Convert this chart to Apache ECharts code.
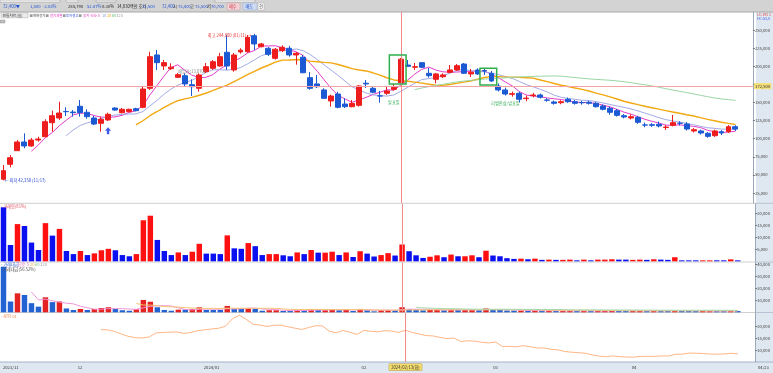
<!DOCTYPE html>
<html><head><meta charset="utf-8">
<script src="https://cdn.jsdelivr.net/npm/echarts@6/dist/echarts.min.js"></script>
<style>html,body{margin:0;padding:0;background:#fff;overflow:hidden}#c{width:773px;height:373px}</style>
</head><body><div id="c"></div>
<script>
const dates = ['2023/11/17','2023/11/20','2023/11/21','2023/11/22','2023/11/23','2023/11/24','2023/11/27','2023/11/28','2023/11/29','2023/11/30',
'2023/12/01','2023/12/04','2023/12/05','2023/12/06','2023/12/07','2023/12/08','2023/12/11','2023/12/12','2023/12/13','2023/12/14',
'2023/12/15','2023/12/18','2023/12/19','2023/12/20','2023/12/21','2023/12/22','2023/12/26','2023/12/27','2023/12/28','2024/01/02',
'2024/01/03','2024/01/04','2024/01/05','2024/01/08','2024/01/09','2024/01/10','2024/01/11','2024/01/12','2024/01/15','2024/01/16',
'2024/01/17','2024/01/18','2024/01/19','2024/01/22','2024/01/23','2024/01/24','2024/01/25','2024/01/26','2024/01/29','2024/01/30',
'2024/01/31','2024/02/01','2024/02/02','2024/02/05','2024/02/06','2024/02/07','2024/02/08','2024/02/13','2024/02/14','2024/02/15',
'2024/02/16','2024/02/19','2024/02/20','2024/02/21','2024/02/22','2024/02/23','2024/02/26','2024/02/27','2024/02/28','2024/02/29',
'2024/03/04','2024/03/05','2024/03/06','2024/03/07','2024/03/08','2024/03/11','2024/03/12','2024/03/13','2024/03/14','2024/03/15',
'2024/03/18','2024/03/19','2024/03/20','2024/03/21','2024/03/22','2024/03/25','2024/03/26','2024/03/27','2024/03/28','2024/03/29',
'2024/04/01','2024/04/02','2024/04/03','2024/04/04','2024/04/05','2024/04/08','2024/04/09','2024/04/11','2024/04/12','2024/04/15',
'2024/04/16','2024/04/17','2024/04/18','2024/04/19','2024/04/22','2024/04/23'];

const opens = [44000,64600,83400,95400,89900,98100,102700,122000,128500,137500,
136700,144700,136400,128500,121200,125800,142300,135800,137200,141300,
143300,169500,215500,200300,196600,184700,186900,174500,169500,192400,
197100,200300,219200,194800,219700,220000,242100,226900,224700,210900,
221400,224700,215500,212300,184200,175500,167200,152000,161600,147800,
144100,146000,176500,169500,159000,162600,168100,177300,201600,198600,
204900,190200,181900,185500,191600,194800,203000,189300,194800,194000,
190200,172700,167200,161200,162600,155300,159300,160300,153400,150600,
149600,154300,151000,149800,150200,148800,145100,141900,138600,131700,
128500,129500,118900,119300,119800,115300,118500,121300,120200,110600,
110600,107400,104100,109600,109600,116500];
const closes = [55800,73700,95400,89900,98100,99500,123400,131700,135400,137200,
135800,135800,130300,120200,126700,133600,139500,140500,140500,138600,
168500,213100,204900,204900,198600,188300,175500,171700,187900,199300,
206200,213100,200300,215500,222100,239900,230700,230700,216400,223400,
226100,215500,217800,191000,169500,171700,155700,158900,143300,144100,
148800,172700,175500,164000,158900,165800,170900,209600,199800,199300,
198500,186900,189300,187900,194800,200700,190200,191600,189300,193300,
179600,167200,161600,162000,154300,156000,160300,157100,153000,148800,
151000,151000,148800,149600,148800,144100,140500,136400,132200,129900,
130300,122600,118700,118500,117500,116000,122000,121100,113300,112400,
107800,103200,110600,107800,116500,113200];
const lows = [42350,60400,83000,86700,88900,95800,101800,109600,125800,131300,
130300,130300,127500,118800,109600,124400,138600,135000,136400,137800,
141900,167200,194800,194800,194800,183700,171700,158900,164800,190600,
194800,199300,194800,192400,217300,218700,222400,226100,214100,209000,
219600,213100,202100,190200,167600,169900,154700,144100,141900,142300,
143300,144100,170000,162600,149600,160300,166200,176400,198900,194800,
197500,184200,176400,183700,190200,193400,189300,185100,187900,187900,
178200,165200,159500,158000,150000,151500,157000,155500,151000,147000,
147500,149500,147000,147000,147000,143000,139000,133000,130500,128000,
126500,120500,115800,116000,115500,112000,117000,118200,111200,108500,
105800,101200,102500,105000,107800,110600];
const highs = [63600,77400,98100,107400,100900,102700,126700,138600,151000,143300,
139500,153400,140500,131300,130300,135800,143300,142300,141300,142700,
171700,220000,222400,208600,204000,190600,190200,181900,190200,204400,
208600,218300,243000,218300,224700,243100,244800,232100,226500,225100,
228900,227900,219500,215500,192000,187900,169500,160700,164800,155700,
153400,174100,181000,172700,165800,171300,175500,211300,208600,204400,
205800,197500,190600,190200,201700,203000,204400,196200,197100,196500,
193400,176200,170500,165000,165000,159500,163200,162200,155800,152600,
153000,156700,153300,152200,152200,150500,147100,144300,140900,133900,
133500,131400,122200,121500,123600,118700,132700,124000,122800,114700,
112500,109100,112500,111800,118700,118700];
const volumes = [22500,6800,15500,14700,7800,4700,15900,10700,13500,4300,
3000,4300,2600,3300,4600,5200,4600,2600,2100,3000,
17100,19000,8900,4300,2600,3700,2600,4000,7300,3200,
3200,3000,10800,5400,5200,7600,6300,2600,3000,3000,
2500,2100,3700,3000,4700,3600,3600,4000,2600,3700,
1800,4200,3200,2000,2600,3400,2400,7000,4200,2500,
1400,1900,2500,1700,2800,2100,2100,2500,1700,4400,
2400,2100,1300,1000,1100,850,1100,600,700,600,
600,700,400,700,400,700,700,850,700,700,
600,700,600,850,700,600,1700,400,400,400,
400,400,400,400,800,400];
const volUp = [0,0,1,0,0,0,1,0,1,0, 0,1,0,1,1,1,0,0,0,1, 1,1,0,0,0,1,0,1,1,0, 0,0,1,0,0,1,0,0,1,1,
0,0,1,0,1,0,1,1,0,1, 0,1,0,0,1,1,0,1,0,0, 0,1,1,0,1,0,1,1,0,1, 0,0,0,0,1,0,1,0,1,0,
1,1,0,1,0,1,1,1,0,0, 1,1,0,1,0,0,1,0,0,0, 1,1,0,0,1,0];
const amounts = [38000,9000,15800,14400,7600,4700,12500,8500,9000,3200,
1900,2800,1900,2800,3600,4200,2800,1700,1300,2500,
10300,8800,4200,1900,1300,2200,2200,2800,4200,1900,
1900,1900,5300,3000,3000,3600,2800,1300,1700,1700,
1100,1100,1900,1700,2500,1900,1700,2500,1700,2500,
1100,2800,1700,800,1900,1900,1900,4200,2800,2200,
1600,1900,2200,1700,2400,1900,1900,2200,1700,3200,
2200,1900,1500,1400,1500,1300,1500,1200,1300,1200,
1200,1300,1100,1300,1100,1300,1300,1400,1300,1300,
1200,1300,1200,1400,1300,1200,1900,1100,1100,1100,
1100,1100,1100,1100,1300,1100];

const priceTicks = [25000,50000,75000,100000,125000,150000,175000,200000,225000,250000];
const volTicks = [5000,10000,15000,20000];
const amtTicks = [10000,20000,30000,40000];
const atrTicks = [10000,15000,20000];
const xTickIdx = [0,10,29,51,70,90];
const xTickText = ['2023/11','12','2024/01','02','03','04'];
const refPrice = 172500;
const markDate = '2024/02/13';
const amtMarker = 12300;
const boxes = [[56,57,175500,215500],[69,70,174100,197100]];
const signals = [['2023/12/08',111000]];
const notes = [['2024/02/08',150600,'발표일'],['2024/03/06',149200,'리밸런싱/발표일']];
const grayNote = ['2023/12/27',193400,'매입가(13,070)'];

const F = '"Noto Sans CJK KR","Noto Sans",sans-serif';
const FS = 4.2;
const RED = '#ee1d1d', BLUE = '#1c5ad4';
const cats = dates.concat(['', ' ']);
const fmt = v => Math.round(v).toLocaleString('en-US');
function sma(arr, n){ return arr.map((v,i)=> i<n-1 ? '-' : Math.round(arr.slice(i-n+1,i+1).reduce((a,b)=>a+b,0)/n)); }
const tr = closes.map((c,i)=> i===0 ? highs[0]-lows[0] : Math.max(highs[i]-lows[i], Math.abs(highs[i]-closes[i-1]), Math.abs(lows[i]-closes[i-1])));
const atr = sma(tr,14);
const candle = dates.map((d,i)=>[opens[i],closes[i],lows[i],highs[i]]);
const lastPrice = closes[closes.length-1];
let iMax = 0, iMin = 0;
highs.forEach((h,i)=>{ if(h>highs[iMax]) iMax=i; });
lows.forEach((l,i)=>{ if(l<lows[iMin]) iMin=i; });

const grids = [
  {left:-2, right:17, top:12, height:191},
  {left:-2, right:17, top:203.7, height:57.6},
  {left:-2, right:17, top:262.5, height:49.8},
  {left:-2, right:17, top:313, height:49}
];
const xAxes = grids.map((g,k)=>({
  type:'category', gridIndex:k, data:cats, boundaryGap:true,
  axisLine:{show:false}, axisTick:{show:false},
  axisLabel: k===3 ? {show:true, interval:(i)=>xTickIdx.includes(i), formatter:(v,i)=>{const j=xTickIdx.indexOf(i);return j>=0?xTickText[j]:'';}, fontSize:FS, fontFamily:F, color:'#333', margin:3} : {show:false},
  splitLine:{show:false}
}));
function yAx(k, min, max, ticks){
  return {type:'value', gridIndex:k, position:'right', min, max, scale:false,
    axisLine:{show:true, lineStyle:{color:'#9aa8bc', width:1}},
    axisTick:{show:true, length:2, customValues:ticks, lineStyle:{color:'#777'}},
    axisLabel:{show:true, customValues:ticks, formatter:v=>fmt(v), fontSize:FS, fontFamily:F, color:'#444', margin:2},
    splitLine:{show:false}};
}
const yAxes = [yAx(0,11200,274800,priceTicks), yAx(1,0,24000,volTicks), yAx(2,0,41500,amtTicks), yAx(3,5000,25400,atrTicks)];

const vline = (showLabel)=>({xAxis:markDate, lineStyle:{color:'#f28a8a', width:1, type:'solid'},
  label: showLabel ? {show:true, position:'start', distance:2, formatter: markDate+'(화)', backgroundColor:'#f4dc6c', borderColor:'#b89a3a', borderWidth:0.5, color:'#333', fontSize:FS, fontFamily:F, padding:[1,2]} : {show:false}});

function lineSeries(data, color, width, xi, yi){
  return {type:'line', xAxisIndex:xi, yAxisIndex:yi, data, symbol:'none', showSymbol:false, lineStyle:{color, width}, silent:true, z:3};
}
const lbl = (color)=>({show:true, color, fontSize:FS, fontFamily:F});

const series = [
  {type:'candlestick', xAxisIndex:0, yAxisIndex:0, data:candle, barWidth:'78%',
   itemStyle:{color:RED, color0:BLUE, borderColor:RED, borderColor0:BLUE, borderWidth:1}, z:4,
   markLine:{symbol:['none','none'], silent:true, animation:false, data:[
     {yAxis:refPrice, lineStyle:{color:'#f3a3a3', width:1, type:'solid'}, label:{show:true, position:'end', distance:1, formatter:fmt(refPrice), backgroundColor:'#f6e07a', color:'#333', fontSize:FS, fontFamily:F, padding:[1,1.2]}},
     {yAxis:lastPrice, lineStyle:{opacity:0}, label:{show:true, position:'end', distance:1, formatter:'{a|'+fmt(lastPrice)+'}\n{b|-4.38%}', offset:[0,2], rich:{a:{backgroundColor:'#2a62d6', color:'#fff', fontSize:FS, fontFamily:F, padding:[0.5,1.2], lineHeight:5}, b:{color:'#2a62d6', fontSize:FS, fontFamily:F, lineHeight:4.5, padding:[0,1]}}}},
     vline(false)
   ]},
   markPoint:{symbol:'circle', symbolSize:0, silent:true, animation:false, data:[
     {coord:[dates[iMax], highs[iMax]], label:Object.assign(lbl('#e83030'),{position:'left', distance:3, offset:[0,2], formatter:'최고 '+fmt(highs[iMax])+' ('+dates[iMax].slice(5)+') →'})},
     {coord:[dates[iMin], lows[iMin]], label:Object.assign(lbl('#2040d0'),{position:'right', distance:1, formatter:'← 최저 '+fmt(lows[iMin])+' ('+dates[iMin].slice(5)+')'})},
     {coord:[notes[0][0], notes[0][1]], label:Object.assign(lbl('#3aae5a'),{position:'inside', formatter:notes[0][2]})},
     {coord:[notes[1][0], notes[1][1]], label:Object.assign(lbl('#3aae5a'),{position:'inside', formatter:notes[1][2]})},
     {coord:[grayNote[0], grayNote[1]], label:Object.assign(lbl('#888'),{position:'inside', formatter:grayNote[2]})}
   ]}
  },
  lineSeries(sma(closes,5), '#e43cc8', 1, 0, 0),
  lineSeries(sma(closes,10), '#a3aae6', 1, 0, 0),
  lineSeries(sma(closes,20), '#f2a810', 1.4, 0, 0),
  lineSeries(sma(closes,60), '#9ad6a6', 1, 0, 0),
  {type:'custom', xAxisIndex:0, yAxisIndex:0, data:boxes, z:6, silent:true,
   encode:{x:[0,1], y:[2,3]},
   renderItem:(params, api)=>{
     const p1 = api.coord([api.value(0), api.value(3)]);
     const p2 = api.coord([api.value(1), api.value(2)]);
     const bw = api.size([1,0])[0];
     return {type:'rect', shape:{x:p1[0]-0.65*bw, y:p1[1], width:p2[0]-p1[0]+1.4*bw, height:p2[1]-p1[1]}, style:{fill:'none', stroke:'#2fb04c', lineWidth:1.5}};
   }},
  {type:'scatter', xAxisIndex:0, yAxisIndex:0, data:signals, symbol:'path://M5,0 L10,5 L7,5 L7,10 L3,10 L3,5 L0,5 Z', symbolSize:[6,7], itemStyle:{color:'#1030e8'}, z:5, silent:true},
  {type:'bar', xAxisIndex:1, yAxisIndex:1, barWidth:'78%', silent:true,
   data:volumes.map((v,i)=>({value:v, itemStyle:{color: volUp[i]? '#ff1010':'#0a10f0'}})),
   markLine:{symbol:['none','none'], silent:true, animation:false, data:[vline(false)]}},
  {type:'bar', xAxisIndex:2, yAxisIndex:2, barWidth:'78%', silent:true,
   data:amounts.map((v,i)=>({value:v, itemStyle:{color: volUp[i]? '#e42222':'#2262d2'}})),
   markLine:{symbol:['none','none'], silent:true, animation:false, data:[vline(false),
     {yAxis:amtMarker, lineStyle:{opacity:0}, label:{show:true, position:'end', distance:1, formatter:'{a|89,820}\n{b|60.52%}', rich:{a:{backgroundColor:'#2a62d6', color:'#fff', fontSize:FS, fontFamily:F, padding:[0.5,1.2], lineHeight:4.5}, b:{color:'#2a62d6', fontSize:FS, fontFamily:F, lineHeight:4, padding:[0,1]}}}}]}},
  lineSeries(sma(amounts,5), '#f294d8', 1, 2, 2),
  lineSeries(sma(amounts,20), '#f6c474', 1, 2, 2),
  lineSeries(sma(amounts,60), '#a4dab0', 1, 2, 2),
  Object.assign(lineSeries(atr, '#ffb683', 1, 3, 3), {markLine:{symbol:['none','none'], silent:true, animation:false, data:[vline(true)]}})
];

function T(x, y, text, fill, size){ return {type:'text', x, y, z:50, silent:true, style:{text, fill, fontSize:size||FS, fontFamily:F, verticalAlign:'middle'}}; }
function R(x, y, w, h, fill, stroke, z){ return {type:'rect', z:(z==null?-10:z), silent:true, shape:{x,y,width:w,height:h}, style:{fill, stroke:stroke||null, lineWidth:0.5}}; }
function L(x1,y1,x2,y2,c){ return {type:'line', z:-5, silent:true, shape:{x1,y1,x2,y2}, style:{stroke:c, lineWidth:1}}; }

const graphics = [
  R(0,0,773,12,'#d3d3d3'),
  R(0,0,60,2.2,'#f4f4f4','#999'), R(66,0,12,2.2,'#f4f4f4','#999'), R(96,0,20,2.2,'#e8e8e8','#999'), R(215,0,40,2.2,'#f4f4f4','#999'),
  L(0,12,773,12,'#a9a9a9'),
  R(756,12,17,350,'#dfe7f1'),
  R(0,362,773,11,'#dfe7f1'),
  L(0,362,773,362,'#a4b4c8'),
  L(0,203.3,756,203.3,'#cfcfcf'), L(0,262,756,262,'#cfcfcf'), L(0,312.5,756,312.5,'#cfcfcf'),
  L(756,262,773,262,'#b8c4d4'), L(756,312.5,773,312.5,'#b8c4d4'), L(756,203.3,773,203.3,'#b8c4d4'),
  T(3,6.5,'72,400▼','#2050d0'), T(30,6.5,'1,500','#2050d0'), T(43,6.5,'-2.03%','#2050d0'),
  T(68,6.5,'285,790','#222'), T(87,6.5,'52.47%','#2050d0'), T(102,6.5,'0.30%','#222'),
  T(117,6.5,'14,830백만 호가','#222'), T(142,6.5,'72,500','#2050d0'), T(162,6.5,'72,400','#2050d0'),
  T(173,6.5,'시','#222'), T(178,6.5,'73,400','#2050d0'), T(190,6.5,'고','#222'), T(195,6.5,'73,500','#2050d0'),
  T(207,6.5,'저','#222'), T(211,6.5,'70,700','#2050d0'),
  R(227,3,13,7,'#f2d4da','#c99',5), T(229,6.5,'매수','#d03040'),
  R(243,3,14,7,'#cfdbf2','#99a8c8',5), T(245.5,6.5,'매도','#2050d0'),
  R(258,3,6,7,'#ffffff','#aaa',5), T(259,6.5,'현','#333'),
  R(1,12.8,27,5,'#ececec','#aaa',5), T(2.5,15.4,'캔들차트(일)','#333',3.8),
  T(29.5,15.4,'■','#999',3.4), T(33,15.4,'매매정지','#555',3.4), T(45.5,15.4,'■','#999',3.4),
  T(50,15.4,'장기과열','#e020c0',3.4), T(62.5,15.4,'■','#999',3.4),
  T(66,15.4,'투자경고','#3050e0',3.4), T(78.5,15.4,'■','#999',3.4),
  T(83,15.4,'종가 단순 5','#e040c0',3.6), T(102,15.4,'10','#8c94dc',3.8), T(107,15.4,'20','#eea000',3.8),
  T(112,15.4,'60','#5cbf70',3.8), T(116.5,15.4,'120','#999',3.8),
  R(0,20,5,3,'#bdbdbd','#999',5),
  T(757,14.5,'LC:192 1','#e04040',3.6), T(757,18.3,'HC:53,8','#3a5fe0',3.6),
  T(1,206.2,'- 거래량(81%)','#e05060'),
  T(1,264.6,'- 거래대금','#3060d0'), T(18,264.6,'단순 5','#e070c0'), T(30,264.6,'20','#f0b040'), T(35,264.6,'60','#80c890'), T(40,264.6,'120','#999'),
  T(3,269.2,'거래대금(56.52%)','#555'),
  T(1,316,'- ATR 14','#f09050'),
  T(758,367.3,'04/23','#333')
];

const chart = echarts.init(document.getElementById('c'), null, {renderer:'canvas'});
chart.setOption({
  animation:false, backgroundColor:'#ffffff',
  textStyle:{fontFamily:F},
  grid:grids, xAxis:xAxes, yAxis:yAxes, series, graphic:graphics
});
</script></body></html>
